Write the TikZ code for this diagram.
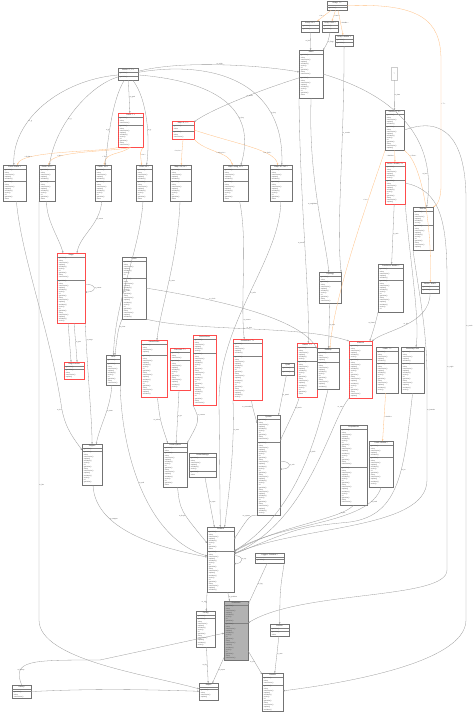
\documentclass[tikz,border=0pt]{standalone}
\usepackage{fontspec}
\setmainfont{Liberation Sans}
\usetikzlibrary{arrows.meta}
\usetikzlibrary{positioning}

% member lines of a class box
\newcount\memc
\newcount\memk
\newcommand{\memword}{\memk=\memc \divide\memk by 7 \multiply\memk by -7 \advance\memk by \memc
  \ifcase\memk + id\or + getValue()\or + value\or + numEntries()\or + update()\or + setName()\or + resize()\fi}
\newcommand{\memlines}[1]{\memc=0 \loop\ifnum\memc<#1 \advance\memc by 1 \memword\par\repeat}

% name, x, y, width, height, separator, title, style
\newcommand{\umlclass}[8]{%
  \node[#8, minimum width=#4pt, minimum height=#5pt] (#1) at (#2,#3) {};
  \node[ttl] at (#1.north) {#7};
  \draw[sepl] ([yshift=-4pt]#1.north west) -- ([yshift=-4pt]#1.north east);
  \draw[sepl] ([yshift=-#6pt]#1.north west) -- ([yshift=-#6pt]#1.north east);
  \pgfmathtruncatemacro\nmemA{(#6-4.6)/2.1}%
  \pgfmathtruncatemacro\nmemB{(#5-#6-0.6)/2.1}%
  \pgfmathsetmacro\memw{#4-1}%
  \node[mem, text width=\memw pt] at ([yshift=-4.1pt]#1.north west) {\memlines{\nmemA}};
  \node[mem, text width=\memw pt] at ([yshift=-#6pt-0.1pt]#1.north west) {\memlines{\nmemB}};
}

\begin{document}
\begin{tikzpicture}[x=1pt,y=-1pt,
  cls/.style={rectangle, draw=black!55, fill=white, line width=0.2pt, inner sep=0pt, anchor=north west},
  redcls/.style={cls, draw=red!70},
  focus/.style={cls, fill=black!30},
  ttl/.style={anchor=north, inner sep=0.5pt, text=black!80, font=\fontsize{1.9}{2.2}\selectfont},
  mem/.style={anchor=north west, inner sep=0.5pt, align=left, text=black!70, font=\fontsize{1.6}{2.1}\selectfont},
  sepl/.style={draw=black!50, line width=0.15pt},
  rel/.style={draw=black!40, line width=0.3pt, -{Stealth[length=1.8pt,width=1.5pt]}},
  tpl/.style={draw=orange!50, line width=0.3pt, -{Stealth[length=1.8pt,width=1.5pt]}},
  lbl/.style={inner sep=0.3pt, font=\fontsize{1.6}{2}\selectfont, text=black!70},
]
\fill[white] (0,0) rectangle (474,712);
\useasboundingbox (0,0) rectangle (474,712);

% top
\umlclass{arrT}{327}{1}{20}{9}{6}{Array< T >}{cls}
\umlclass{arrInt}{301}{21}{18}{11}{7}{Array< int >}{cls}
\umlclass{arrBool}{322}{21}{16}{11}{7}{Array< bool >}{cls}
\umlclass{arrDbl}{335}{35}{18}{11}{7}{Array< double >}{cls}
\umlclass{mesh}{299}{50}{24}{48}{27}{Mesh}{cls}
\node[cls, draw=black!20, minimum width=6pt, minimum height=13pt, font=\fontsize{1.9}{2.2}\selectfont, text=black!40] (tpar) at (391,67) {T};
\umlclass{vecT}{385}{110}{19}{40}{16}{Vector< T, 3 >}{cls}
\umlclass{vecD}{385}{162}{20}{42}{18}{Vector< double, 3 >}{redcls}
\umlclass{vecT2}{118}{68}{20}{12}{8}{Vector< T, 2 >}{cls}
\umlclass{fieldT}{118}{113}{25}{34}{12}{Field< T >}{redcls}
\umlclass{mapKV}{172}{121}{22}{18}{10}{Map< K, V >}{redcls}

% row of instances
\umlclass{fScal}{3}{165}{23}{36}{16}{Field< Scalar >}{cls}
\umlclass{fVec}{39}{165}{16}{36}{16}{Field< Vec >}{cls}
\umlclass{fTen}{95}{165}{16}{36}{16}{Field< Ten >}{cls}
\umlclass{fInt}{136}{165}{16}{36}{16}{Field< int >}{cls}
\umlclass{mapIdx}{170}{165}{21}{36}{16}{Map< int, int >}{cls}
\umlclass{mapName}{223}{165}{25}{36}{16}{Map< string, int >}{cls}
\umlclass{mapCell}{270}{165}{22}{36}{16}{Map< int, Cell >}{cls}

% right side
\umlclass{bounds}{413}{207}{20}{43}{18}{Bounds}{cls}
\umlclass{transform}{378}{264}{25}{48}{16}{Transform< double >}{cls}
\umlclass{vecF}{421}{282}{18}{11}{7}{Vector< float >}{cls}
\umlclass{topo}{319}{272}{22}{31}{9}{Topology}{cls}

% left middle
\umlclass{stage}{57}{253}{28}{70}{27}{Stage}{redcls}
\umlclass{clock}{122}{257}{24}{62}{21}{Clock}{cls}
\umlclass{params}{64}{362}{20}{17}{7}{StageParams}{redcls}
\umlclass{timer}{106}{355}{14}{30}{8}{Timer}{cls}
\umlclass{stepper}{82}{444}{20}{41}{7}{Stepper}{cls}

% middle row
\umlclass{solverA}{141}{340}{26}{57}{15}{LinearSolver}{redcls}
\umlclass{precond}{170}{348}{20}{42}{12}{Precond< T >}{redcls}
\umlclass{solverB}{193}{335}{23}{70}{18}{NonlinSolver}{redcls}
\umlclass{assembler}{233}{339}{29}{61}{17}{Assembler< T >}{redcls}
\umlclass{quad}{281}{363}{13}{12}{8}{Quad}{cls}
\umlclass{basis}{297}{343}{20}{54}{18}{Basis< T >}{redcls}
\umlclass{dofmap}{317}{348}{22}{41}{14}{DofMap}{cls}
\umlclass{material}{349}{341}{23}{57}{18}{Material}{redcls}
\umlclass{loadA}{376}{347}{22}{46}{16}{Load< T >}{cls}
\umlclass{bc}{401}{347}{23}{46}{16}{BoundaryCond}{cls}
\umlclass{system}{257}{415}{23}{100}{27}{System}{cls}
\umlclass{linsys}{163}{443}{24}{44}{9}{LinearSystem}{cls}
\umlclass{settings}{189}{453}{27}{24}{18}{SolverSettings}{cls}
\umlclass{output}{340}{425}{27}{80}{42}{OutputWriter}{cls}
\umlclass{loadD}{369}{441}{24}{46}{16}{Load< double >}{cls}

% bottom
\umlclass{problem}{207}{527}{27}{65}{24}{Problem}{cls}
\umlclass{logger}{255}{553}{29}{10}{6}{Logger< Problem >}{cls}
\umlclass{sim}{224}{601}{24}{59}{22}{Simulation}{focus}
\umlclass{config}{196}{611}{19}{36}{7}{Config}{cls}
\umlclass{monitor}{270}{624}{19}{12}{7}{Monitor}{cls}
\umlclass{report}{199}{683}{19}{17}{6}{Report}{cls}
\umlclass{results}{262}{673}{21}{38}{12}{Results}{cls}
\umlclass{history}{12}{685}{19}{13}{6}{History}{cls}

% template instances
\draw[tpl] (arrT) -- (arrInt) node[lbl,midway,left]{< int >};
\draw[tpl] (arrT) -- (arrBool) node[lbl,midway,right]{< bool >};
\draw[tpl] (arrT) -- (arrDbl) node[lbl,midway,right]{< double >};
\draw[tpl] (arrT.east) .. controls (420,3) and (441,20) .. (441,60) -- (441,185) node[lbl,pos=0.35,right]{< T >} .. controls (441,200) and (437,205) .. (bounds.north east);
\draw[tpl] (fieldT.south west) .. controls (110,152) and (20,150) .. (fScal) node[lbl,pos=0.8,above]{< Scalar >};
\draw[tpl] (fieldT.south) .. controls (115,152) and (50,150) .. (fVec) node[lbl,pos=0.75,above]{< Vec >};
\draw[tpl] (fieldT.south) .. controls (120,155) and (105,152) .. (fTen) node[lbl,pos=0.7,left]{< Ten >};
\draw[tpl] (fieldT.south east) .. controls (140,152) .. (fInt) node[lbl,pos=0.6,right]{< int >};
\draw[tpl] (mapKV.south) .. controls (182,150) .. (mapIdx) node[lbl,midway,left]{< int, int >};
\draw[tpl] (mapKV.south east) .. controls (205,152) and (230,152) .. (mapName) node[lbl,pos=0.6,above]{< string, int >};
\draw[tpl] (mapKV.east) .. controls (240,145) and (275,150) .. (mapCell) node[lbl,pos=0.7,above]{< int, Cell >};
\draw[tpl] (vecT) -- (vecD) node[lbl,midway,left]{< double >};
\draw[tpl] (vecT.south east) .. controls (425,165) and (432,240) .. (vecF) node[lbl,pos=0.1,right]{< float >};
\draw[tpl] (vecT.south west) .. controls (372,190) and (335,290) .. (dofmap) node[lbl,pos=0.3,left]{< int >};
\draw[tpl] (loadA) -- (loadD) node[lbl,midway,right]{< double >};

% top relations
\draw[rel] (arrInt) -- (mesh) node[lbl,midway,left]{m\_ids};
\draw[rel] (arrBool.south) .. controls (328,42) .. (mesh.north east) node[lbl,midway,right]{m\_flags};
\draw[rel] (arrDbl.south) .. controls (344,150) and (336,230) .. (topo.north east) node[lbl,pos=0.3,right]{m\_coords};
\draw[rel] (mesh.south) .. controls (308,180) and (326,240) .. (topo) node[lbl,pos=0.5,left]{m\_neighbors};
\draw[rel] (tpar) -- (vecT) node[lbl,midway,right]{m\_data};
\draw[rel] (mesh.east) .. controls (410,100) and (436,150) .. (bounds) node[lbl,pos=0.8,left]{m\_box};
\draw[rel] (vecT2) -- (fieldT) node[lbl,midway,right]{m\_grad};
\draw[rel] (vecT2) .. controls (60,80) and (12,120) .. (fScal) node[lbl,pos=0.65,right]{m\_g};
\draw[rel] (vecT2) .. controls (90,85) and (55,125) .. (fVec) node[lbl,pos=0.6,right]{m\_g};
\draw[rel] (vecT2) .. controls (112,100) and (108,140) .. (fTen) node[lbl,pos=0.6,left]{m\_g};
\draw[rel] (vecT2) .. controls (148,100) and (150,140) .. (fInt) node[lbl,pos=0.6,right]{m\_g};
\draw[rel] (vecT2) .. controls (200,80) and (260,100) .. (mapName) node[lbl,pos=0.7,right]{m\_key};
\draw[rel] (vecT2) .. controls (210,60) and (285,80) .. (mapCell) node[lbl,pos=0.75,right]{m\_key};
\draw[rel] (vecT2) .. controls (180,60) and (260,65) .. (mesh) node[lbl,pos=0.5,above]{m\_origin};
\draw[rel] (mesh) .. controls (260,90) and (210,110) .. (mapKV) node[lbl,pos=0.4,below]{m\_index};

% row to middle
\draw[rel] (fScal) .. controls (22,260) and (50,330) .. (62,410) node[lbl,left]{m\_rhs} .. controls (66,430) and (75,440) .. (stepper);
\draw[rel] (fVec) .. controls (46,220) and (60,240) .. (stage);
\draw[rel] (fVec.south west) .. controls (39,260) .. (39,320) -- (39,620) node[lbl,pos=0.55,right]{m\_flux} .. controls (39,660) and (150,675) .. (report);
\draw[rel] (fTen) .. controls (100,225) and (80,235) .. (stage) node[lbl,pos=0.3,right]{m\_stress};
\draw[rel] (fInt) .. controls (140,250) and (115,300) .. (timer) node[lbl,pos=0.6,right]{m\_count};
\draw[rel] (mapIdx) .. controls (178,260) and (160,310) .. (solverA) node[lbl,pos=0.5,right]{m\_rows};
\draw[rel] (mapName) .. controls (248,240) and (240,300) .. (assembler) node[lbl,pos=0.85,right]{m\_names};
\draw[rel] (mapCell) .. controls (280,260) and (220,320) .. (219,400) node[lbl,pos=0.5,right]{m\_cells} -- (problem);
\draw[rel] (clock.east) .. controls (220,300) and (300,318) .. (dofmap) node[lbl,pos=0.3,above]{m\_clock};
\draw[rel] (clock.south east) .. controls (200,332) and (300,325) .. (material.north west) node[lbl,pos=0.5,above]{m\_time};
\draw[rel] ([yshift=4pt]stage.east) .. controls +(12,0) and +(12,0) .. ([yshift=-4pt]stage.east) node[lbl,pos=0.5,right]{m\_parent};
\draw[rel] ([xshift=-3pt]stage.south) -- ([xshift=-3pt]params.north);
\draw[rel] ([xshift=3pt]stage.south) -- ([xshift=3pt]params.north) node[lbl,midway,right]{m\_prm};
\draw[rel] (stage.south east) .. controls (88,380) and (92,420) .. (stepper) node[lbl,pos=0.1,right]{m\_stage};
\draw[rel] (clock.south west) .. controls (118,330) .. (timer) node[lbl,pos=0.3,right]{m\_timer};
\draw[rel] (timer) .. controls (110,410) and (100,425) .. (stepper) node[lbl,pos=0.4,right]{m\_timer};
\draw[rel] (stepper) .. controls (95,530) and (160,548) .. (problem) node[lbl,pos=0.3,right]{m\_stepper};
\draw[rel] (timer.south east) .. controls (122,460) and (150,540) .. (problem) node[lbl,pos=0.45,right]{m\_wall};

% middle to problem
\draw[rel] (solverA) .. controls (160,420) .. (linsys) node[lbl,pos=0.5,left]{m\_solver};
\draw[rel] (precond) -- (linsys) node[lbl,midway,right]{m\_pc};
\draw[rel] (solverB.south west) .. controls (200,420) .. (linsys.north east) node[lbl,pos=0.3,right]{m\_newton};
\draw[rel] (linsys) .. controls (180,510) .. (problem) node[lbl,pos=0.6,left]{m\_linsys};
\draw[rel] (settings) -- (problem) node[lbl,midway,right]{m\_opts};
\draw[rel] (assembler.south west) .. controls (235,450) and (228,500) .. (problem) node[lbl,pos=0.2,right]{m\_asm};
\draw[rel] (assembler) .. controls (252,405) .. (system) node[lbl,pos=0.5,left]{m\_assembler};
\draw[rel] (quad) -- (system) node[lbl,midway,right]{m\_quad};
\draw[rel] (basis) .. controls (297,405) .. (system) node[lbl,pos=0.5,right]{m\_basis};
\draw[rel] ([yshift=4pt]system.east) .. controls +(12,0) and +(12,0) .. ([yshift=-4pt]system.east) node[lbl,pos=0.5,right]{m\_sub};
\draw[rel] (system.south west) .. controls (250,515) .. (problem) node[lbl,pos=0.4,left]{m\_system};
\draw[rel] (dofmap.south) .. controls (318,430) and (300,510) .. (problem) node[lbl,pos=0.4,right]{m\_dofs};
\draw[rel] (material.south west) .. controls (330,420) and (310,520) .. (problem) node[lbl,pos=0.1,left]{m\_mat};
\draw[rel] (output.south) .. controls (340,520) and (280,525) .. (problem) node[lbl,pos=0.2,right]{m\_out};
\draw[rel] (loadD.south) .. controls (370,525) and (280,522) .. (problem) node[lbl,pos=0.15,right]{m\_load};
\draw[rel] (bc.south) .. controls (404,470) and (400,515) .. (350,522) node[lbl,pos=0.4,right]{m\_bc} .. controls (300,527) .. (problem);
\draw[rel] (mesh.south west) .. controls (300,200) and (310,300) .. (basis) node[lbl,pos=0.5,left]{m\_mesh};
\draw[rel] (topo) -- (dofmap) node[lbl,midway,right]{m\_topo};

% right side
\draw[rel] (vecD) -- (transform) node[lbl,midway,right]{m\_axis};
\draw[rel] (vecD.south east) .. controls (410,260) and (420,320) .. (bc);
\draw[rel] (transform.south west) .. controls (375,325) .. (material) node[lbl,pos=0.4,left]{m\_frame};
\draw[rel] (vecF.south) .. controls (430,325) and (385,330) .. (material.north east) node[lbl,pos=0.5,above]{m\_dir};
\draw[rel] (bounds.south west) .. controls (420,300) and (427,330) .. (427,380) -- (427,480) node[lbl,pos=0.3,right]{m\_bounds} .. controls (427,530) and (300,525) .. (problem);
\draw[rel] (vecD.east) .. controls (440,190) and (447,220) .. (447,280) -- (447,570) node[lbl,pos=0.3,right]{m\_origin} .. controls (447,600) and (300,590) .. (sim);
\draw[rel] (vecT.east) .. controls (445,115) and (466,140) .. (466,200) -- (466,620) node[lbl,pos=0.3,right]{m\_scale} .. controls (466,665) and (330,685) .. (results);

% bottom relations
\draw[rel] ([yshift=4pt]problem.east) .. controls +(10,0) and +(10,0) .. ([yshift=-4pt]problem.east) node[lbl,pos=0.5,right]{m\_up};
\draw[rel] (logger) -- (sim) node[lbl,midway,right]{m\_log};
\draw[rel] (logger.south east) .. controls (280,590) .. (monitor);
\draw[rel] (problem) -- (sim) node[lbl,midway,right]{m\_problem};
\draw[rel] (problem.south west) -- (config) node[lbl,midway,left]{m\_cfg};
\draw[rel] (config) -- (report) node[lbl,midway,left]{m\_cfg};
\draw[rel] (sim) -- (report) node[lbl,midway,right]{m\_report};
\draw[rel] (sim) -- (results) node[lbl,midway,left]{m\_res};
\draw[rel] (monitor) -- (results) node[lbl,midway,right]{m\_mon};
\draw[rel] (history.north) .. controls (12,660) and (30,660) .. (100,660) node[lbl,pos=0.3,below]{m\_history} -- (sim);
\draw[rel] (history.east) .. controls (100,688) and (160,690) .. (report);
\end{tikzpicture}
\end{document}
